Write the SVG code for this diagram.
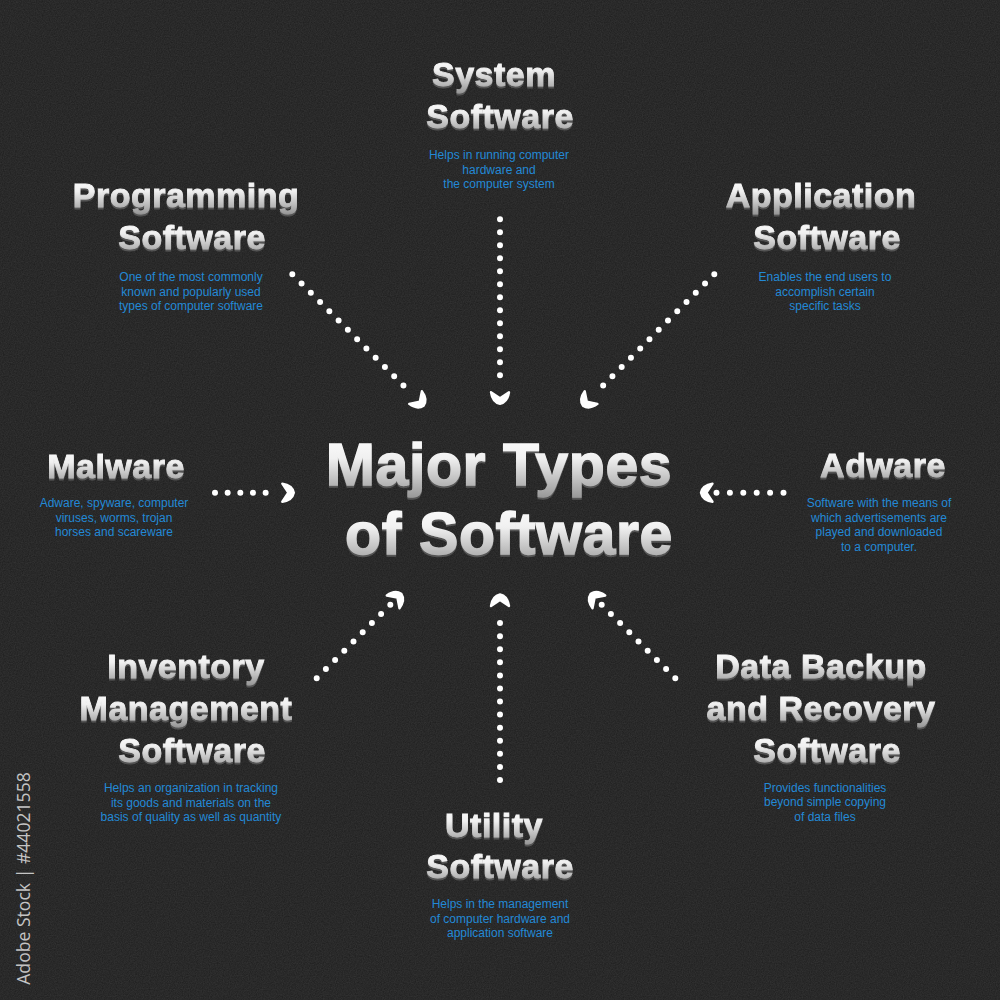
<svg xmlns="http://www.w3.org/2000/svg" width="1000" height="1000" viewBox="0 0 1000 1000">
<defs>
  <linearGradient id="metal" x1="0" y1="0" x2="0" y2="1">
    <stop offset="0" stop-color="#ffffff"/>
    <stop offset="0.4" stop-color="#f0f0f0"/>
    <stop offset="1" stop-color="#979797"/>
  </linearGradient>
  <filter id="emboss" x="-5%" y="-20%" width="110%" height="150%">
    <feOffset in="SourceAlpha" dy="2" result="off"/>
    <feFlood flood-color="#555555"/>
    <feComposite in2="off" operator="in" result="sh"/>
    <feMerge><feMergeNode in="sh"/><feMergeNode in="SourceGraphic"/></feMerge>
  </filter>
  <filter id="noise" x="0" y="0" width="100%" height="100%">
    <feTurbulence type="fractalNoise" baseFrequency="0.85" numOctaves="2" stitchTiles="stitch"/>
    <feColorMatrix type="matrix" values="0 0 0 0 1  0 0 0 0 1  0 0 0 0 1  0.11 0 0 0 0"/>
  </filter>
  <marker id="head" markerUnits="userSpaceOnUse" orient="auto" refX="-16" refY="0" markerWidth="40" markerHeight="40" overflow="visible">
    <path d="M -12,-9 Q -2,-7.5 -0.5,0 Q -2,7.5 -12,9 L -6,0 Z" fill="#ffffff" stroke="#ffffff" stroke-width="2.4" stroke-linejoin="round"/>
  </marker>
  <style>
    .t { font-family: "Liberation Sans", Arial, sans-serif; font-weight: bold; font-size: 34px; letter-spacing: 0.5px; fill: url(#metal); stroke: url(#metal); stroke-width: 0.9px; filter: url(#emboss); text-anchor: middle; }
    .big { font-size: 59px; letter-spacing: 0.6px; stroke-width: 1.4px; }
    .d { font-family: "Liberation Sans", Arial, sans-serif; font-size: 12px; fill: #2389d6; text-anchor: middle; }
    .c line { stroke: #ffffff; stroke-width: 6; stroke-linecap: round; fill: none; marker-end: url(#head); }
  </style>
</defs>

<rect width="1000" height="1000" fill="#1d1d1d"/>
<rect width="1000" height="1000" filter="url(#noise)"/>

<g id="connectors" class="c">
  <line x1="500" y1="219.3" x2="500" y2="388.3" stroke-dasharray="0 13"/>
  <line x1="292.3" y1="274.3" x2="412.7" y2="394.7" stroke-dasharray="0 13.098"/>
  <line x1="714.3" y1="274.3" x2="593.9" y2="394.7" stroke-dasharray="0 13.098"/>
  <line x1="215" y1="492.7" x2="278.3" y2="492.7" stroke-dasharray="0 12.66"/>
  <line x1="783.5" y1="492.7" x2="716.5" y2="492.7" stroke-dasharray="0 13.4"/>
  <line x1="500" y1="780" x2="500" y2="610" stroke-dasharray="0 13.077"/>
  <line x1="316.7" y1="678.3" x2="390.3" y2="604.7" stroke-dasharray="0 13.01"/>
  <line x1="675.3" y1="678.3" x2="601.7" y2="604.7" stroke-dasharray="0 13.01"/>
</g>

<g id="center">
  <text class="t big" x="499" y="485">Major Types</text>
  <text class="t big" x="509" y="554">of Software</text>
</g>

<g id="system-software">
  <text class="t" x="494" y="86">System</text>
  <text class="t" x="500" y="128">Software</text>
  <text class="d" x="499" y="159">Helps in running computer</text>
  <text class="d" x="499" y="173.5">hardware and</text>
  <text class="d" x="499" y="188">the computer system</text>
</g>

<g id="programming-software">
  <text class="t" x="186" y="207">Programming</text>
  <text class="t" x="192" y="249">Software</text>
  <text class="d" x="191" y="281">One of the most commonly</text>
  <text class="d" x="191" y="295.5">known and popularly used</text>
  <text class="d" x="191" y="310">types of computer software</text>
</g>

<g id="application-software">
  <text class="t" x="821" y="207">Application</text>
  <text class="t" x="827" y="249">Software</text>
  <text class="d" x="825" y="281">Enables the end users to</text>
  <text class="d" x="825" y="295.5">accomplish certain</text>
  <text class="d" x="825" y="310">specific tasks</text>
</g>

<g id="malware">
  <text class="t" x="116" y="478">Malware</text>
  <text class="d" x="114" y="507">Adware, spyware, computer</text>
  <text class="d" x="114" y="521.5">viruses, worms, trojan</text>
  <text class="d" x="114" y="536">horses and scareware</text>
</g>

<g id="adware">
  <text class="t" x="883" y="477">Adware</text>
  <text class="d" x="879" y="507">Software with the means of</text>
  <text class="d" x="879" y="521.5">which advertisements are</text>
  <text class="d" x="879" y="536">played and downloaded</text>
  <text class="d" x="879" y="550.5">to a computer.</text>
</g>

<g id="inventory-management-software">
  <text class="t" x="186" y="678">Inventory</text>
  <text class="t" x="186" y="720">Management</text>
  <text class="t" x="192" y="762">Software</text>
  <text class="d" x="191" y="792">Helps an organization in tracking</text>
  <text class="d" x="191" y="806.5">its goods and materials on the</text>
  <text class="d" x="191" y="821">basis of quality as well as quantity</text>
</g>

<g id="data-backup-software">
  <text class="t" x="821" y="678">Data Backup</text>
  <text class="t" x="821" y="720">and Recovery</text>
  <text class="t" x="827" y="762">Software</text>
  <text class="d" x="825" y="791.5">Provides functionalities</text>
  <text class="d" x="825" y="806">beyond simple copying</text>
  <text class="d" x="825" y="820.5">of data files</text>
</g>

<g id="utility-software">
  <text class="t" x="494" y="837">Utility</text>
  <text class="t" x="500" y="878">Software</text>
  <text class="d" x="500" y="908">Helps in the management</text>
  <text class="d" x="500" y="922.5">of computer hardware and</text>
  <text class="d" x="500" y="937">application software</text>
</g>

<text x="0" y="0" transform="translate(30,878.5) rotate(-90)" font-family="'Open Sans', 'DejaVu Sans', sans-serif" font-size="17.6" fill="#c4c4c4" text-anchor="middle">Adobe Stock | #44021558</text>
</svg>
